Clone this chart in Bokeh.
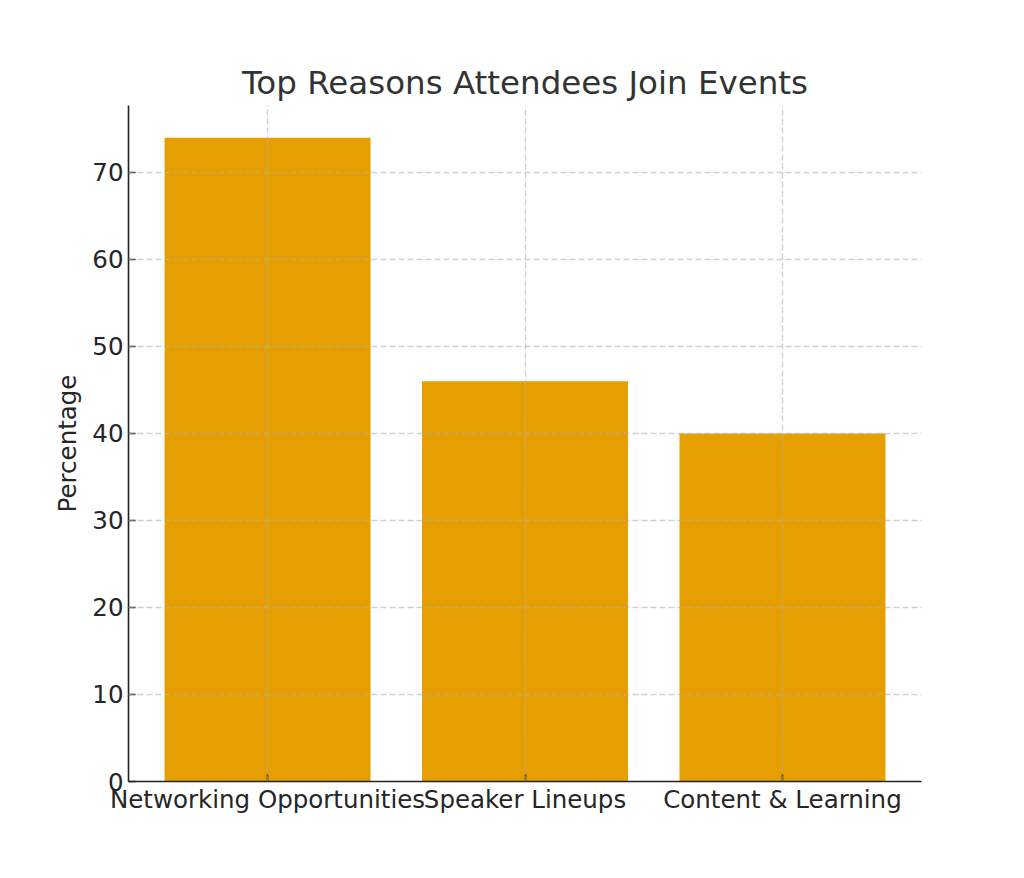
from bokeh.plotting import figure
from bokeh.models import Range1d, FixedTicker, ColumnDataSource
from bokeh.embed import file_html
from bokeh.resources import INLINE

categories = ["Networking Opportunities", "Speaker Lineups", "Content & Learning"]
percentages = [74, 46, 40]
y_ticks = [0, 10, 20, 30, 40, 50, 60, 70]
title_text = "Top Reasons Attendees Join Events"
y_label = "Percentage"

xs = list(range(len(categories)))
src = ColumnDataSource(dict(x=xs, top=percentages, cat=categories))

FONT = "DejaVu Sans"

p = figure(width=1008, height=862, output_backend="svg", toolbar_location=None,
           x_range=Range1d(-0.54, len(categories) - 1 + 0.54),
           y_range=Range1d(0, max(percentages) * 1.05),
           min_border_left=128, min_border_right=87, min_border_top=105, min_border_bottom=81)

p.vbar(x="x", top="top", width=0.8, source=src, fill_color="#E69F00", line_color=None)

p.title.text = title_text
p.title.align = "center"
p.title.text_font = FONT
p.title.text_font_size = "32.5px"
p.title.text_font_style = "normal"
p.title.text_color = "#333333"
p.title.standoff = 7

p.outline_line_color = None
p.background_fill_color = "white"
p.border_fill_color = "white"

p.xaxis.ticker = FixedTicker(ticks=xs)
p.xaxis.major_label_overrides = {i: c for i, c in enumerate(categories)}
p.yaxis.ticker = FixedTicker(ticks=y_ticks)
p.yaxis.axis_label = y_label

for ax in (p.xaxis[0], p.yaxis[0]):
    ax.axis_line_color = "#222222"
    ax.axis_line_width = 1.6
    ax.major_tick_line_color = "#222222"
    ax.major_tick_line_width = 1.6
    ax.major_tick_in = 7
    ax.major_tick_out = 0
    ax.minor_tick_line_color = None
    ax.major_label_text_font = FONT
    ax.major_label_text_font_size = "24.5px"
    ax.major_label_text_color = "#262626"
    ax.axis_label_text_font = FONT
    ax.axis_label_text_font_size = "24.5px"
    ax.axis_label_text_font_style = "normal"
    ax.axis_label_text_color = "#262626"
    ax.axis_label_standoff = 7
p.xaxis.major_label_standoff = 3
p.yaxis.major_label_standoff = 5

for g in (p.xgrid[0], p.ygrid[0]):
    g.grid_line_color = "#b0b0b0"
    g.grid_line_alpha = 0.6
    g.grid_line_width = 1.3
    g.grid_line_dash = "6 3"
    g.level = "annotation"
p.xgrid.ticker = FixedTicker(ticks=xs)
p.ygrid.ticker = FixedTicker(ticks=y_ticks)

open("out.html", "w").write(file_html(p, INLINE))
